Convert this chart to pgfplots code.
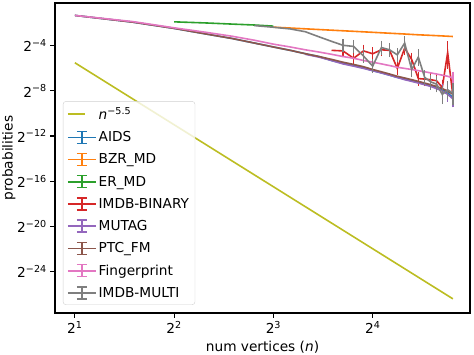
\documentclass[border=0pt]{standalone}
\usepackage{fontspec}
\setmainfont{DejaVu Sans}
\usepackage{pgfplots}
\pgfplotsset{compat=1.18}
\definecolor{tblue}{HTML}{1F77B4}
\definecolor{torange}{HTML}{FF7F0E}
\definecolor{tgreen}{HTML}{2CA02C}
\definecolor{tred}{HTML}{D62728}
\definecolor{tpurple}{HTML}{9467BD}
\definecolor{tbrown}{HTML}{8C564B}
\definecolor{tpink}{HTML}{E377C2}
\definecolor{tgray}{HTML}{7F7F7F}
\definecolor{tolive}{HTML}{BCBD22}
\pgfplotsset{
  ln/.style={line width=1.6pt, no markers,
    legend image code/.code={
      \draw[##1, line width=1.6pt] (0pt,0pt) -- (28pt,0pt);
      \draw[##1, line width=1.4pt] (14pt,-6pt) -- (14pt,6pt);
      \draw[##1, line width=1.4pt] (9pt,-6pt) -- (19pt,-6pt) (9pt,6pt) -- (19pt,6pt);
    }},
  eo/.style={forget plot, draw=none, no markers,
    /pgfplots/error bars/y dir=both,
    /pgfplots/error bars/y explicit relative,
    /pgfplots/error bars/error bar style={draw=#1, line width=1.3pt, solid},
    /pgfplots/error bars/error mark options={draw=#1, line width=1.3pt, mark size=5pt}},
}
\newcommand{\fs}{\fontsize{13.7}{16}\selectfont}
\begin{document}
\begin{tikzpicture}
\useasboundingbox (-55pt,-41pt) rectangle (419pt,313pt);
\begin{axis}[
  at={(0pt,0pt)}, anchor=south west,
  scale only axis, width=415pt, height=310pt,
  xmode=log, ymode=log, log basis x=2, log basis y=2,
  xmin=1.741, xmax=31.56, ymin=4.59e-9, ymax=0.871,
  xtick={2,4,8,16},
  xticklabels={2\textsuperscript{1},2\textsuperscript{2},2\textsuperscript{3},2\textsuperscript{4}},
  ytick={0.0625,0.00390625,0.000244140625,1.52587890625e-5,9.5367431640625e-7,5.9604644775390625e-8},
  yticklabels={2\textsuperscript{−4},2\textsuperscript{−8},2\textsuperscript{−12},2\textsuperscript{−16},2\textsuperscript{−20},2\textsuperscript{−24}},
  minor x tick num=0, minor y tick num=0,
  tick align=outside, tick pos=left,
  major tick length=4.8pt,
  every tick/.style={black, line width=1.1pt},
  axis line style={line width=1.1pt},
  tick label style={font=\fs},
  label style={font=\fs},
  xlabel={num vertices (\textit{n})},
  ylabel={probabilities},
  xlabel style={at={(axis description cs:0.5,-0.11)}, anchor=center},
  ylabel style={at={(axis description cs:-0.111,0.5)}, anchor=center},
  legend cell align=left,
  legend style={at={(axis description cs:0.019,0.026)}, anchor=south west,
    draw=black!18, rounded corners=3pt, fill=white, fill opacity=0.8, text opacity=1,
    font=\fs, row sep=6.6pt, inner sep=4pt},
]
% n^{-5.5}
\addplot[color=tolive, line width=1.6pt, no markers] coordinates {
(2,0.02210) (4,4.883e-4) (8,1.079e-5) (16,2.384e-7) (28,1.098e-8)};
\addlegendentry{\textit{n}\textsuperscript{−5.5}}
% AIDS
\addplot[color=tblue, ln] coordinates {
(2,0.4061) (3,0.2680) (4,0.1830) (5,0.1294) (6,0.0981) (7,0.0743) (8,0.0583) (9,0.0474)
(10,0.0385) (11,0.0324) (12,0.02538) (13,0.02134) (14,0.01858) (15,0.01618) (16,0.01360)
(17,0.01184) (18,0.01031) (19,0.00897) (20,0.00809) (21,0.00729) (22,0.00657) (23,0.00592)
(24,0.00534) (25,0.00481) (26,0.00419) (27,0.00352) (28,0.00258)};
\addlegendentry{AIDS}
\addplot[eo=tblue] coordinates {(26,0.00419) +- (0,0.10) (27,0.00352) +- (0,0.12) (28,0.00258) +- (0,0.15)};
% BZR_MD
\addplot[color=torange, ln] coordinates {
(8,0.1975) (10,0.1780) (12,0.1638) (14,0.1528) (16,0.1436) (18,0.1359) (20,0.1294)
(22,0.1233) (24,0.1191) (26,0.1150) (28,0.1111)};
\addlegendentry{BZR\_MD}
% ER_MD
\addplot[color=tgreen, ln] coordinates {
(4,0.2736) (5,0.2553) (6,0.2381) (7,0.2253) (8,0.2102)};
\addlegendentry{ER\_MD}
% IMDB-BINARY
\addplot[color=tred, ln] coordinates {
(12,0.0474) (13,0.0458) (14,0.02916) (15,0.0458) (16,0.0385) (17,0.0490) (18,0.0474)
(19,0.015625) (20,0.0544) (21,0.02721) (22,0.00837) (23,0.00809) (24,0.00781) (25,0.00729)
(26,0.00481) (27,0.0412) (28,0.00296)};
\addlegendentry{IMDB-BINARY}
\addplot[eo=tred] coordinates {
(13,0.0458) +- (0,0.08) (14,0.02916) +- (0,0.10) (15,0.0458) +- (0,0.08)
(16,0.0385) +- (0,0.08) (17,0.0490) +- (0,0.08) (18,0.0474) +- (0,0.10) (19,0.015625) +- (0,0.12)
(20,0.0544) +- (0,0.12) (21,0.02721) +- (0,0.12) (22,0.00837) +- (0,0.12) (23,0.00809) +- (0,0.12)
(24,0.00781) +- (0,0.12) (25,0.00729) +- (0,0.15) (26,0.00481) +- (0,0.18) (27,0.0412) +- (0,0.5)
(28,0.00296) +- (0,0.2)};
% MUTAG
\addplot[color=tpurple, ln] coordinates {
(10,0.0372) (11,0.03125) (12,0.02538) (13,0.02062) (14,0.01795) (15,0.015625) (16,0.01360)
(17,0.01184) (18,0.01031) (19,0.00897) (20,0.00781) (21,0.00704) (22,0.00635) (23,0.00572)
(24,0.00515) (25,0.00449) (26,0.00391) (27,0.00317) (28,0.00240)};
\addlegendentry{MUTAG}
\addplot[eo=tpurple] coordinates {(26,0.00391) +- (0,0.12) (27,0.00317) +- (0,0.15) (28,0.00240) +- (0,0.2)};
% PTC_FM
\addplot[color=tbrown, ln] coordinates {
(2,0.4061) (3,0.2680) (4,0.1830) (5,0.1294) (6,0.0981) (7,0.0743) (8,0.0583) (9,0.0474)
(10,0.0385) (11,0.0324) (12,0.02721) (13,0.02288) (14,0.01992) (15,0.01734) (16,0.01458)
(17,0.01269) (18,0.01105) (19,0.00962) (20,0.00867) (21,0.0078125) (22,0.00704) (23,0.00635)
(24,0.00572) (25,0.00515) (26,0.00449) (27,0.00391) (28,0.00317)};
\addlegendentry{PTC\_FM}
\addplot[eo=tbrown] coordinates {(27,0.00391) +- (0,0.12) (28,0.00317) +- (0,0.15)};
% Fingerprint
\addplot[color=tpink, ln] coordinates {
(2,0.4061) (3,0.2774) (4,0.1895) (5,0.1436) (6,0.1127) (7,0.0884) (8,0.0694) (9,0.0583)
(10,0.0490) (11,0.0427) (12,0.0372) (13,0.0324) (14,0.02916) (15,0.02538) (16,0.02288)
(17,0.02062) (18,0.01858) (19,0.01675) (20,0.015625) (21,0.01458) (22,0.01360) (23,0.01269)
(24,0.01184) (25,0.01105) (26,0.01031) (27,0.00962) (28,0.00867)};
\addlegendentry{Fingerprint}
\addplot[eo=tpink] coordinates {(28,0.00867) +- (0,0.08)};
% IMDB-MULTI
\addplot[color=tgray, ln] coordinates {
(7,0.2176) (8,0.1961) (9,0.1768) (10,0.1487) (11,0.1088) (12,0.0825) (13,0.0647) (14,0.0604)
(15,0.0335) (16,0.01795) (17,0.0563) (18,0.0490) (19,0.0359) (20,0.0743) (21,0.01458)
(22,0.03125) (23,0.00897) (24,0.00680) (25,0.00592) (26,0.00317) (27,0.00419) (28,0.00340)};
\addlegendentry{IMDB-MULTI}
\addplot[eo=tgray] coordinates {
(13,0.0647) +- (0,0.08) (14,0.0604) +- (0,0.10)
(15,0.0335) +- (0,0.10) (16,0.01795) +- (0,0.12) (17,0.0563) +- (0,0.12) (18,0.0490) +- (0,0.12)
(19,0.0359) +- (0,0.12) (20,0.0743) +- (0,0.15) (21,0.01458) +- (0,0.15) (22,0.03125) +- (0,0.2)
(23,0.00897) +- (0,0.15) (24,0.00680) +- (0,0.15) (25,0.00592) +- (0,0.18) (26,0.00317) +- (0,0.25)
(27,0.00419) +- (0,0.25) (28,0.00340) +- (0,0.35)};
\end{axis}
\end{tikzpicture}
\end{document}
